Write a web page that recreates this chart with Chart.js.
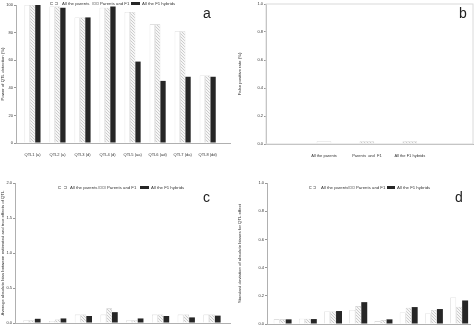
<!DOCTYPE html>
<html>
<head>
<meta charset="utf-8">
<script src="https://cdn.jsdelivr.net/npm/chart.js@4.4.0/dist/chart.umd.min.js"></script>
<style>
  body { margin: 0; background: #fff; width: 474px; height: 332px; overflow: hidden; position: relative; font-family: Arial, "Liberation Sans", sans-serif; }
  canvas { position: absolute; }
  .lt { position: absolute; font-size: 4.3px; line-height: 5px; color: #333; white-space: nowrap; }
  .sw { position: absolute; height: 3px; box-sizing: border-box; }
  .letter { position: absolute; font-size: 14px; line-height: 14px; color: #222; }
</style>
</head>
<body>
<canvas id="pa" width="237" height="166" style="left:0;top:0"></canvas>
<canvas id="pb" width="237" height="166" style="left:237px;top:0"></canvas>
<canvas id="pc" width="237" height="166" style="left:0;top:166px"></canvas>
<canvas id="pd" width="237" height="166" style="left:237px;top:166px"></canvas>
<script>
const qtlLabels = ['QTL1 (a)', 'QTL2 (a)', 'QTL3 (d)', 'QTL4 (d)', 'QTL5 (aa)', 'QTL6 (ad)', 'QTL7 (da)', 'QTL8 (dd)'];
const seriesNames = ['All the parents', 'Parents  and  F1', 'All the F1 hybrids'];

// a - power of QTL detection (%)
const powerParents   = [100, 99, 91, 98, 95, 86, 81, 49];
const powerParentsF1 = [100, 99, 91, 98, 95, 86, 81, 49];
const powerF1        = [100, 98, 91, 99, 59, 45, 48, 48];

// b - false positive rate (%)
const fpLabels = ['All the parents', 'Parents  and  F1', 'All the F1 hybrids'];
const fpRate   = [0.02, 0.02, 0.02];

// c - average absolute bias
const biasParents   = [0.04, 0.03, 0.12, 0.12, 0.04, 0.12, 0.12, 0.12];
const biasParentsF1 = [0.04, 0.05, 0.12, 0.21, 0.04, 0.12, 0.12, 0.12];
const biasF1        = [0.06, 0.065, 0.10, 0.155, 0.065, 0.10, 0.08, 0.105];

// d - standard deviation of absolute biases
const sdParents   = [0.033, 0.038, 0.089, 0.10, 0.021, 0.082, 0.075, 0.188];
const sdParentsF1 = [0.033, 0.038, 0.089, 0.127, 0.028, 0.115, 0.10, 0.122];
const sdF1        = [0.033, 0.035, 0.092, 0.155, 0.033, 0.12, 0.106, 0.167];

function hatch() {
  const c = document.createElement('canvas');
  c.width = 3; c.height = 3;
  const g = c.getContext('2d');
  g.fillStyle = '#f6f6f6'; g.fillRect(0, 0, 3, 3);
  g.fillStyle = '#cccccc';
  g.fillRect(0, 0, 1, 1); g.fillRect(1, 1, 1, 1); g.fillRect(2, 2, 1, 1);
  return g.createPattern(c, 'repeat');
}
const hatchFill = hatch();

const styles = [
  { backgroundColor: '#ffffff', borderColor: '#c8c8c8', borderWidth: 0.6 },
  { backgroundColor: hatchFill, borderColor: '#c8c8c8', borderWidth: 0.6 },
  { backgroundColor: '#262626', borderColor: '#262626', borderWidth: 0 }
];

function groupSets(series) {
  return series.map((vals, k) => Object.assign({
    label: seriesNames[k],
    data: vals.map((v, i) => ({ x: i + 1, y: v }))
  }, styles[k]));
}

const boxPlugin = {
  id: 'box',
  afterDraw(chart, args, opts) {
    if (!opts.show) return;
    const a = chart.chartArea, ctx = chart.ctx;
    ctx.save();
    ctx.strokeStyle = '#dadada';
    ctx.lineWidth = 1;
    ctx.strokeRect(a.left, a.top, a.right - a.left, a.bottom - a.top);
    ctx.restore();
  }
};

function makePanel(id, p) {
  return new Chart(document.getElementById(id), {
    type: 'bar',
    data: { datasets: p.datasets },
    plugins: [boxPlugin],
    options: {
      responsive: false,
      animation: false,
      layout: { padding: { top: p.top, right: p.right, left: 0, bottom: 0 } },
      plugins: { legend: { display: false }, tooltip: { enabled: false }, box: { show: !!p.box } },
      datasets: { bar: { categoryPercentage: p.cat, barPercentage: 1 } },
      scales: {
        x: {
          type: 'linear', min: p.xmin, max: p.xmax, offset: false,
          afterFit: s => { s.height = p.bottom; },
          afterBuildTicks: s => { s.ticks = p.labels.map((_, i) => ({ value: i + 1 })); },
          ticks: { callback: v => p.labels[v - 1] || '', font: { size: 4 }, color: '#333', maxRotation: 0, autoSkip: false, padding: 1 },
          grid: { display: false },
          border: { color: '#b0b0b0', width: 1 }
        },
        y: {
          min: 0, max: p.ymax,
          afterFit: s => { s.width = p.left; },
          ticks: { stepSize: p.step, font: { size: 4 }, color: '#333', padding: 1, callback: p.fmt },
          grid: { drawOnChartArea: false, tickLength: 2, color: '#999' },
          border: { color: '#b0b0b0', width: 1 },
          title: { display: true, text: p.ytitle, font: { size: 4.3 }, color: '#333', padding: 0 }
        }
      }
    }
  });
}

makePanel('pa', {
  datasets: groupSets([powerParents, powerParentsF1, powerF1]),
  labels: qtlLabels, xmin: 0.34, xmax: 8.89, cat: 0.64,
  ymax: 100, step: 20, fmt: v => String(v),
  ytitle: 'Power of QTL detection (%)',
  left: 16, top: 5, right: 7, bottom: 23
});

makePanel('pb', {
  datasets: [{
    label: 'False positive rate',
    data: fpRate.map((v, i) => ({ x: i + 1, y: v })),
    backgroundColor: ['#ffffff', hatchFill, hatchFill],
    borderColor: '#c8c8c8', borderWidth: 0.6
  }],
  labels: fpLabels, xmin: -0.35, xmax: 4.47, cat: 0.34,
  ymax: 1, step: 0.2, fmt: v => v.toFixed(1),
  ytitle: 'False positive rate (%)',
  left: 29, top: 4, right: 1, bottom: 22, box: true
});

makePanel('pc', {
  datasets: groupSets([biasParents, biasParentsF1, biasF1]),
  labels: qtlLabels, xmin: 0.34, xmax: 8.7, cat: 0.67,
  ymax: 2, step: 0.5, fmt: v => v.toFixed(1),
  ytitle: 'Average absolute bias between estimated and true effects of QTL',
  left: 15, top: 17, right: 7, bottom: 9
});

makePanel('pd', {
  datasets: groupSets([sdParents, sdParentsF1, sdF1]),
  labels: qtlLabels, xmin: 0.38, xmax: 8.43, cat: 0.71,
  ymax: 1, step: 0.2, fmt: v => v.toFixed(1),
  ytitle: 'Standard deviation of absolute biases for QTL effect',
  left: 30, top: 17, right: 4, bottom: 8
});

// legends: [swatch x, swatch width, text x] per item, y centre
const legendSpots = [
  { y: 3.5, items: [[50, 8, 62], [92, 7, 100], [131, 9, 142]] },
  { y: 187, items: [[58, 9, 70], [98, 8, 107], [140, 9, 151]] },
  { y: 187, items: [[309, 7, 321], [348, 7, 356], [387, 8, 397]] }
];
const swatchCss = [
  'background:#fff;border:0.6px dashed #b0b0b0',
  'background:repeating-linear-gradient(45deg,#c8c8c8 0 1px,#f6f6f6 1px 2px);border:0.6px solid #c8c8c8',
  'background:#262626'
];
legendSpots.forEach(spot => {
  spot.items.forEach((it, k) => {
    const sw = document.createElement('div');
    sw.className = 'sw';
    sw.style.cssText = swatchCss[k] + `;left:${it[0]}px;top:${spot.y - 1.5}px;width:${it[1]}px`;
    document.body.appendChild(sw);
    const t = document.createElement('div');
    t.className = 'lt';
    t.textContent = seriesNames[k];
    t.style.left = it[2] + 'px';
    t.style.top = (spot.y - 2.5) + 'px';
    document.body.appendChild(t);
  });
});

// panel letters
[['a', 203, 6], ['b', 459, 6], ['c', 203, 190], ['d', 455, 190]].forEach(([s, x, y]) => {
  const d = document.createElement('div');
  d.className = 'letter';
  d.textContent = s;
  d.style.left = x + 'px';
  d.style.top = y + 'px';
  document.body.appendChild(d);
});
</script>
</body>
</html>
